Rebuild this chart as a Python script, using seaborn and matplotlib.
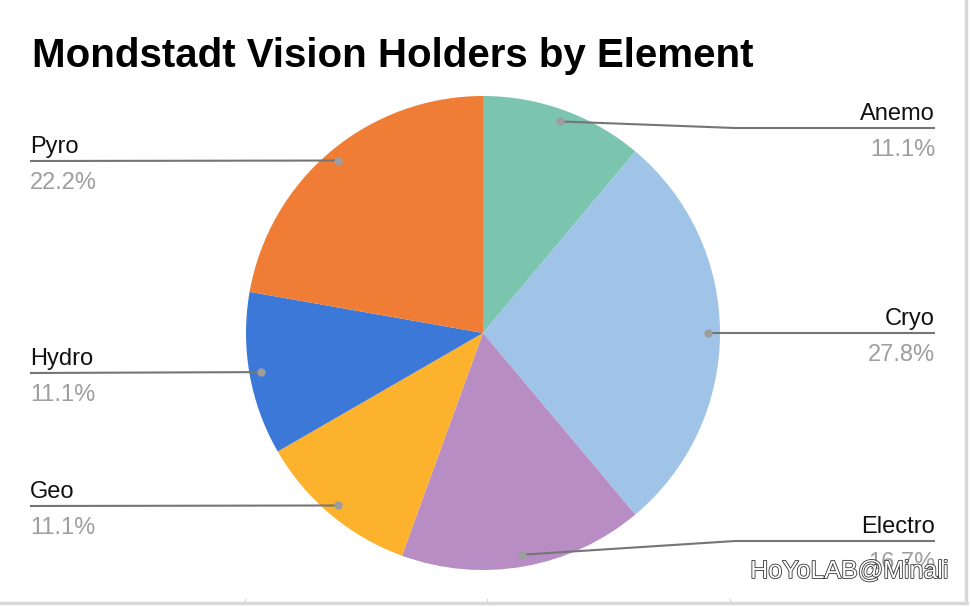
import numpy as np
import matplotlib
matplotlib.use("Agg")
import matplotlib.pyplot as plt
import matplotlib.patheffects as pe
import seaborn as sns

# ---- data ----
elements = ["Anemo", "Cryo", "Electro", "Geo", "Hydro", "Pyro"]
counts = [2, 5, 3, 2, 2, 4]
pct_labels = ["11.1%", "27.8%", "16.7%", "11.1%", "11.1%", "22.2%"]
colors = ["#7BC4AE", "#A0C4E8", "#B88DC4", "#FDB22E", "#3B78D8", "#EF7D35"]

sns.set_theme(style="white")
plt.rcParams["font.family"] = ["Liberation Sans", "DejaVu Sans"]

W, H = 971, 607
fig = plt.figure(figsize=(W / 100, H / 100), dpi=100)
ax = fig.add_axes([0, 0, 1, 1])

cx, cy, R = 483, H - 333, 237
wedges, _ = ax.pie(counts, colors=colors, startangle=90, counterclock=False,
                   center=(cx, cy), radius=R, frame=True,
                   wedgeprops=dict(linewidth=0))
ax.set_xlim(0, W)
ax.set_ylim(0, H)
ax.set_aspect("equal")
ax.axis("off")

# label layout: (side, label line y in px, elbow x)
layout = {
    "Anemo": ("right", 128, 735),
    "Cryo": ("right", 333, None),
    "Electro": ("right", 541, 735),
    "Geo": ("left", 506, None),
    "Hydro": ("left", 373, None),
    "Pyro": ("left", 161, None),
}
line_col = "#757575"
total = sum(counts)
cum = 0
for name, c, p in zip(elements, counts, pct_labels):
    mid = (cum + c / 2) / total * 360.0
    cum += c
    th = np.deg2rad(90 - mid)
    dx, dy = cx + 0.95 * R * np.cos(th), cy + 0.95 * R * np.sin(th)
    side, ly, elbow = layout[name]
    ly = H - ly
    if side == "right":
        xe = 935
        if elbow is not None:
            xs = [dx, elbow, xe]; ys = [dy, ly, ly]
        else:
            xs = [dx, xe]; ys = [dy, ly]
        ha = "right"
    else:
        xe = 30
        xs = [dx, xe]; ys = [dy, ly]
        ha = "left"
    ax.plot(xs, ys, color=line_col, lw=1.5, solid_capstyle="butt", zorder=3)
    ax.plot([dx], [dy], "o", color="#9e9e9e", ms=5, zorder=4)
    ax.text(xe, ly + 8, name, ha=ha, va="baseline", fontsize=17, color="#111111")
    ax.text(xe, ly - 11, p, ha=ha, va="top", fontsize=17, color="#9e9e9e")

fig.text(32 / W, 1 - 67 / H, "Mondstadt Vision Holders by Element",
         fontsize=29, fontweight="bold", ha="left", va="baseline", color="black")

# faint spreadsheet borders
ax.plot([0, 967], [H - 603, H - 603], color="#d8d8d8", lw=2.5)
ax.plot([966, 966], [H - 603, H], color="#d8d8d8", lw=2.5)
for xt in [245, 487, 730]:
    ax.plot([xt, xt], [H - 603, H - 599], color="#d8d8d8", lw=1)

fig.text(948 / W, 1 - 578 / H, "HoYoLAB@Minali", fontsize=18, color="white",
         ha="right", va="baseline",
         path_effects=[pe.withStroke(linewidth=1.2, foreground="#333333")])

fig.savefig("out.png", dpi=100)
